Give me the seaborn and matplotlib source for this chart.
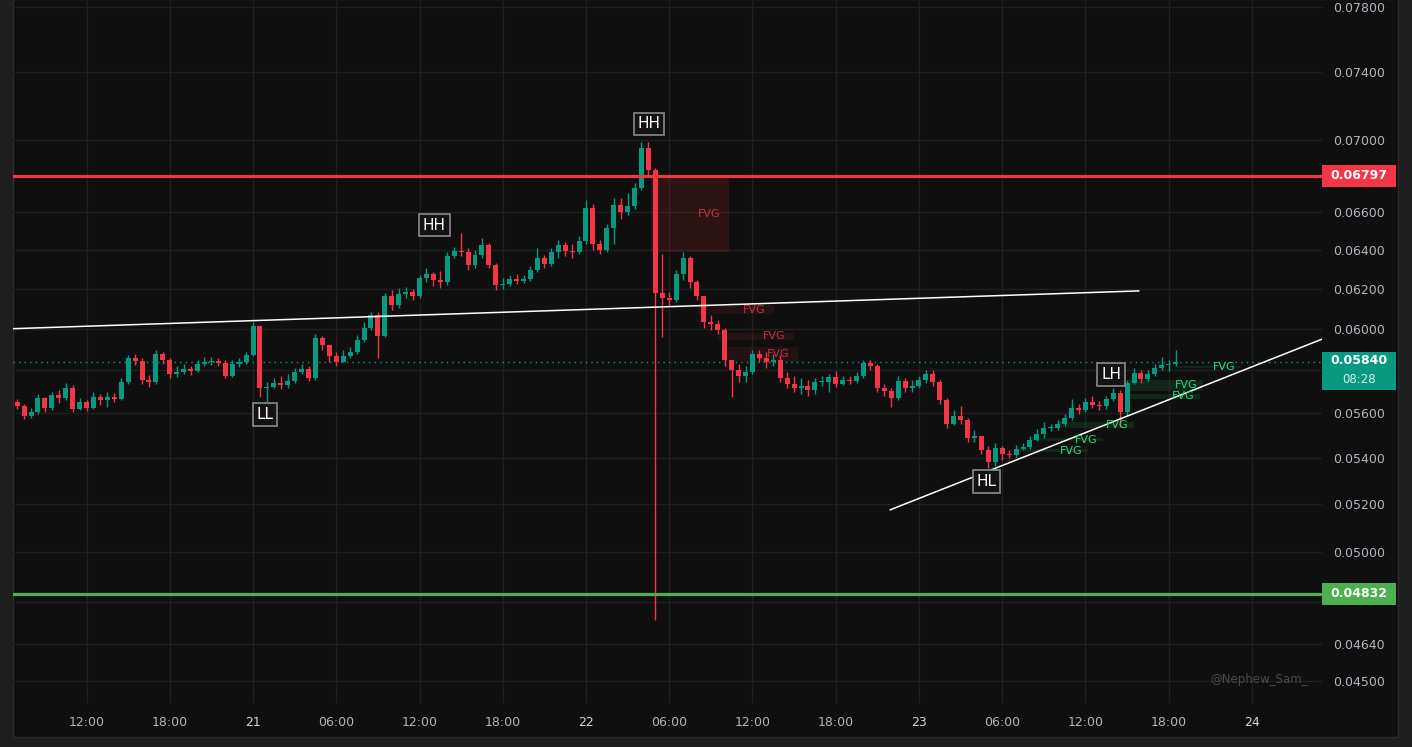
import numpy as np
import matplotlib
matplotlib.use("Agg")
import matplotlib.pyplot as plt
import seaborn as sns
from matplotlib.patches import Rectangle
from matplotlib.ticker import NullLocator, NullFormatter

# ---------------- data ----------------
# time axis: hours since day 20, 00:00 ; 30-minute candles
start_hour = 7.0
step_hours = 0.5
first_open = 0.05653

closes = [
    0.05633, 0.05588, 0.05606, 0.05671, 0.05624, 0.05685, 0.05671, 0.05717, 0.05620, 0.05653,
    0.05624, 0.05676, 0.05662, 0.05676, 0.05667, 0.05745, 0.05859, 0.05844, 0.05754, 0.05745,
    0.05878, 0.05849, 0.05782, 0.05792, 0.05806, 0.05796, 0.05830, 0.05840, 0.05844, 0.05835,
    0.05773, 0.05830, 0.05840, 0.05873, 0.06013, 0.05717, 0.05722, 0.05740, 0.05731, 0.05750,
    0.05792, 0.05806, 0.05763, 0.05955, 0.05921, 0.05868, 0.05840, 0.05868, 0.05888, 0.05945,
    0.06003, 0.06067, 0.05964, 0.06162, 0.06117, 0.06172, 0.06183, 0.06162, 0.06254, 0.06274,
    0.06243, 0.06233, 0.06367, 0.06393, 0.06388, 0.06320, 0.06372, 0.06424, 0.06320, 0.06218,
    0.06223, 0.06249, 0.06238, 0.06249, 0.06295, 0.06356, 0.06325, 0.06388, 0.06424, 0.06393,
    0.06388, 0.06445, 0.06621, 0.06430, 0.06398, 0.06514, 0.06638, 0.06600, 0.06632, 0.06730,
    0.06953, 0.06830, 0.06177, 0.06152, 0.06142, 0.06274, 0.06356, 0.06233, 0.06162, 0.06033,
    0.06023, 0.05994, 0.05849, 0.05801, 0.05773, 0.05792, 0.05878, 0.05859, 0.05840, 0.05849,
    0.05763, 0.05736, 0.05717, 0.05727, 0.05708, 0.05745, 0.05745, 0.05768, 0.05736, 0.05754,
    0.05750, 0.05773, 0.05835, 0.05820, 0.05717, 0.05703, 0.05671, 0.05750, 0.05717, 0.05727,
    0.05754, 0.05782, 0.05745, 0.05662, 0.05552, 0.05588, 0.05570, 0.05489, 0.05498, 0.05435,
    0.05382, 0.05444, 0.05418, 0.05413, 0.05440, 0.05449, 0.05480, 0.05507, 0.05534, 0.05534,
    0.05552, 0.05579, 0.05624, 0.05615, 0.05653, 0.05638, 0.05633, 0.05667, 0.05694, 0.05606,
    0.05740, 0.05787, 0.05759, 0.05782, 0.05811, 0.05825, 0.05830, 0.05840,
]
highs = [
    0.05667, 0.05643, 0.05624, 0.05690, 0.05676, 0.05699, 0.05708, 0.05740, 0.05731, 0.05671,
    0.05662, 0.05699, 0.05690, 0.05699, 0.05694, 0.05763, 0.05873, 0.05878, 0.05859, 0.05778,
    0.05897, 0.05888, 0.05859, 0.05820, 0.05830, 0.05820, 0.05849, 0.05864, 0.05864, 0.05859,
    0.05849, 0.05849, 0.05859, 0.05888, 0.06033, 0.06013, 0.05745, 0.05763, 0.05773, 0.05782,
    0.05811, 0.05830, 0.05820, 0.05974, 0.05964, 0.05926, 0.05888, 0.05897, 0.05912, 0.05969,
    0.06033, 0.06082, 0.06082, 0.06177, 0.06193, 0.06203, 0.06208, 0.06198, 0.06269, 0.06305,
    0.06284, 0.06290, 0.06388, 0.06414, 0.06487, 0.06409, 0.06398, 0.06461, 0.06435, 0.06330,
    0.06254, 0.06269, 0.06274, 0.06269, 0.06315, 0.06409, 0.06372, 0.06409, 0.06451, 0.06440,
    0.06430, 0.06472, 0.06665, 0.06643, 0.06451, 0.06535, 0.06676, 0.06676, 0.06703, 0.06758,
    0.06988, 0.06988, 0.06841, 0.06377, 0.06183, 0.06295, 0.06388, 0.06367, 0.06243, 0.06162,
    0.06067, 0.06043, 0.06003, 0.05849, 0.05830, 0.05820, 0.05897, 0.05897, 0.05888, 0.05878,
    0.05873, 0.05792, 0.05773, 0.05763, 0.05754, 0.05763, 0.05773, 0.05782, 0.05796, 0.05773,
    0.05773, 0.05792, 0.05849, 0.05849, 0.05830, 0.05736, 0.05717, 0.05773, 0.05763, 0.05754,
    0.05773, 0.05801, 0.05801, 0.05754, 0.05671, 0.05615, 0.05633, 0.05579, 0.05525, 0.05498,
    0.05453, 0.05467, 0.05453, 0.05435, 0.05458, 0.05467, 0.05498, 0.05529, 0.05561, 0.05552,
    0.05570, 0.05597, 0.05667, 0.05643, 0.05671, 0.05680, 0.05657, 0.05680, 0.05717, 0.05708,
    0.05754, 0.05811, 0.05801, 0.05801, 0.05830, 0.05864, 0.05849, 0.05897,
]
lows = [
    0.05620, 0.05574, 0.05579, 0.05597, 0.05606, 0.05615, 0.05648, 0.05662, 0.05606, 0.05615,
    0.05611, 0.05620, 0.05638, 0.05629, 0.05653, 0.05662, 0.05736, 0.05825, 0.05736, 0.05722,
    0.05736, 0.05830, 0.05763, 0.05768, 0.05782, 0.05778, 0.05792, 0.05820, 0.05825, 0.05820,
    0.05763, 0.05768, 0.05816, 0.05830, 0.05868, 0.05676, 0.05653, 0.05717, 0.05713, 0.05717,
    0.05740, 0.05782, 0.05750, 0.05754, 0.05897, 0.05840, 0.05820, 0.05840, 0.05859, 0.05878,
    0.05935, 0.05994, 0.05859, 0.05959, 0.06092, 0.06102, 0.06152, 0.06142, 0.06152, 0.06233,
    0.06213, 0.06203, 0.06218, 0.06356, 0.06367, 0.06295, 0.06305, 0.06356, 0.06305, 0.06193,
    0.06198, 0.06213, 0.06223, 0.06228, 0.06238, 0.06284, 0.06305, 0.06315, 0.06356, 0.06367,
    0.06356, 0.06377, 0.06430, 0.06398, 0.06377, 0.06388, 0.06430, 0.06562, 0.06584, 0.06616,
    0.06719, 0.06797, 0.04730, 0.05959, 0.06112, 0.06132, 0.06243, 0.06203, 0.06142, 0.06003,
    0.05994, 0.05974, 0.05820, 0.05676, 0.05745, 0.05745, 0.05782, 0.05840, 0.05811, 0.05820,
    0.05745, 0.05717, 0.05699, 0.05690, 0.05680, 0.05690, 0.05727, 0.05699, 0.05722, 0.05731,
    0.05736, 0.05740, 0.05763, 0.05801, 0.05699, 0.05680, 0.05629, 0.05662, 0.05699, 0.05699,
    0.05717, 0.05740, 0.05727, 0.05643, 0.05534, 0.05547, 0.05552, 0.05471, 0.05471, 0.05418,
    0.05356, 0.05365, 0.05391, 0.05400, 0.05404, 0.05435, 0.05440, 0.05476, 0.05489, 0.05520,
    0.05525, 0.05543, 0.05570, 0.05597, 0.05606, 0.05624, 0.05615, 0.05620, 0.05657, 0.05538,
    0.05593, 0.05736, 0.05740, 0.05750, 0.05773, 0.05801, 0.05796, 0.05820,
]

resistance_level = 0.06797
support_level = 0.04832
countdown_text = "08:28"

# trend lines (hour, price)
trend_a_x = [6.70, 87.86]
trend_a_y = [0.06000, 0.06188]
trend_b_x = [69.91, 101.05]
trend_b_y = [0.05175, 0.05949]

# fair value gaps: start hour, end hour, top price, bottom price
fvg_bear_start = [52.68, 56.00, 57.44, 57.80]
fvg_bear_end = [58.29, 61.55, 62.99, 63.30]
fvg_bear_top = [0.06797, 0.06117, 0.05979, 0.05911]
fvg_bear_bot = [0.06388, 0.06072, 0.05945, 0.05840]

fvg_bull_start = [79.28, 80.14, 81.95, 87.06, 87.06, 90.60]
fvg_bull_end = [84.18, 85.25, 87.50, 92.47, 92.25, 95.20]
fvg_bull_top = [0.05437, 0.05486, 0.05561, 0.05754, 0.05690, 0.05820]
fvg_bull_bot = [0.05426, 0.05476, 0.05534, 0.05703, 0.05667, 0.05811]

# swing structure labels
swing_labels = ["HH", "HH", "LL", "HL", "LH"]
swing_index = [90, 64, 36, 140, 159]
swing_side = ["high", "high", "low", "low", "high"]

price_ticks = [0.078, 0.074, 0.070, 0.066, 0.064, 0.062, 0.060, 0.058,
               0.056, 0.054, 0.052, 0.050, 0.048, 0.0464, 0.045]
hidden_ticks = [0.058, 0.048]   # covered by the price badges
time_ticks = [12, 18, 24, 30, 36, 42, 48, 54, 60, 66, 72, 78, 84, 90, 96]
time_labels = ["12:00", "18:00", "21", "06:00", "12:00", "18:00", "22",
               "06:00", "12:00", "18:00", "23", "06:00", "12:00", "18:00", "24"]

# ---------------- style ----------------
BG = "#0f0f0f"
BORDER = "#1e1e1e"
GRID = "#1f1f1f"
UP = "#089981"
DOWN = "#f23645"
GREEN = "#4caf50"
LABEL = "#b2b5be"
FVG_GREEN_TXT = "#22e07a"

sns.set_theme(style="dark", rc={"axes.facecolor": BG, "figure.facecolor": BORDER})
plt.rcParams["font.family"] = ["DejaVu Sans"]

W, H = 1412, 747
fig = plt.figure(figsize=(W / 100, H / 100), dpi=100)
fig.patches.append(Rectangle((13 / W, 10 / H), (1398 - 13) / W, (H - 9) / H,
                             transform=fig.transFigure, fc=BG, ec="#2c2c2c",
                             lw=1.0, zorder=-5))

ax = fig.add_axes([13 / W, 44 / H, 1309 / W, 703 / H])
ax.patch.set_visible(False)
ax.set_yscale("log")
ax.set_ylim(0.044203, 0.078466)
ax.set_xlim(6.70, 101.05)
for s in ax.spines.values():
    s.set_visible(False)

# grid and scales
ax.set_axisbelow(True)
ax.yaxis.set_minor_locator(NullLocator())
ax.yaxis.set_minor_formatter(NullFormatter())
ax.set_yticks(price_ticks)
ax.set_yticklabels(["" if tk in hidden_ticks else f"{tk:.5f}" for tk in price_ticks])
ax.set_xticks(time_ticks)
ax.set_xticklabels(time_labels)
ax.grid(True, which="major", color=GRID, lw=1.0)
ax.yaxis.tick_right()
ax.tick_params(axis="y", length=0, pad=8, labelsize=9, labelcolor=LABEL)
ax.tick_params(axis="x", length=0, pad=9, labelsize=9, labelcolor=LABEL)
for lab in ax.get_xticklabels():
    if ":" not in lab.get_text():
        lab.set_color("#d1d4dc")

# candles
c = np.array(closes)
hi = np.array(highs)
lo = np.array(lows)
o = np.concatenate([[first_open], c[:-1]])
t = start_hour + step_hours * np.arange(len(c))
cols = np.where(c >= o, UP, DOWN)
ax.vlines(t, lo, hi, colors=cols, lw=1.0, zorder=3)
bottom = np.minimum(o, c)
height = np.maximum(np.abs(c - o), bottom * 0.0009)
ax.bar(t, height, bottom=bottom, width=0.36, color=cols, linewidth=0, zorder=4)

# horizontal levels
ax.axhline(resistance_level, color=DOWN, lw=2.3, zorder=5)
ax.axhline(support_level, color=GREEN, lw=2.3, zorder=5)
ax.axhline(c[-1], color=UP, lw=1.0, ls=(0, (1, 3)), zorder=2)

# trend lines
sns.lineplot(x=trend_a_x, y=trend_a_y, ax=ax, color="white", lw=1.1, zorder=6)
sns.lineplot(x=trend_b_x, y=trend_b_y, ax=ax, color="white", lw=1.1, zorder=6)

# FVG boxes
for i in range(len(fvg_bear_start)):
    a = 0.13 if i == 0 else 0.09
    ax.add_patch(Rectangle((fvg_bear_start[i], fvg_bear_bot[i]),
                           fvg_bear_end[i] - fvg_bear_start[i],
                           fvg_bear_top[i] - fvg_bear_bot[i],
                           color=DOWN, alpha=a, lw=0, zorder=2))
    mid = np.sqrt(fvg_bear_top[i] * fvg_bear_bot[i])
    ax.annotate("FVG", xy=(fvg_bear_end[i], mid), xytext=(-6, 0),
                textcoords="offset points", ha="right", va="center",
                color=DOWN, alpha=0.8, fontsize=8, zorder=7)
for i in range(len(fvg_bull_start)):
    ax.add_patch(Rectangle((fvg_bull_start[i], fvg_bull_bot[i]),
                           fvg_bull_end[i] - fvg_bull_start[i],
                           fvg_bull_top[i] - fvg_bull_bot[i],
                           color="#22c55e", alpha=0.12, lw=0, zorder=2))
    mid = np.sqrt(fvg_bull_top[i] * fvg_bull_bot[i])
    ax.annotate("FVG", xy=(fvg_bull_end[i], mid), xytext=(-4, 0),
                textcoords="offset points", ha="right", va="center",
                color=FVG_GREEN_TXT, fontsize=8, zorder=7)

# swing labels
offsets = {0: (5.4, 13.0), 1: (-19.4, 5.8), 2: (-1.4, -9.4), 3: (-1.4, -10.0), 4: (-6.5, 10.8)}
for k, (lab, idx, side) in enumerate(zip(swing_labels, swing_index, swing_side)):
    yv = hi[idx] if side == "high" else lo[idx]
    ax.annotate(lab, xy=(t[idx], yv), xytext=offsets[k], textcoords="offset points",
                ha="center", va="center", color="white", fontsize=11,
                bbox=dict(boxstyle="square,pad=0.25", fc="#131313", ec="#8a8a8a", lw=1.2),
                zorder=8)

# right price-scale badges
rax = fig.add_axes([1322 / W, 44 / H, 76 / W, 703 / H])
rax.set_yscale("log")
rax.set_ylim(ax.get_ylim())
rax.set_xlim(0, 1)
rax.axis("off")
px = lambda n: np.exp(n / 1225.0)
bw = 74 / 76
for level, col in [(resistance_level, DOWN), (support_level, GREEN)]:
    rax.add_patch(Rectangle((0, level / px(11)), bw, level * px(11) - level / px(11),
                            color=col, lw=0, clip_on=False))
    rax.text(bw / 2, level, f"{level:.5f}", ha="center", va="center",
             color="white", fontsize=9, fontweight="bold")
last = c[-1]
rax.add_patch(Rectangle((0, last / px(28)), bw, last * px(10) - last / px(28),
                        color=UP, lw=0, clip_on=False))
rax.text(bw / 2, last * px(1), f"{last:.5f}", ha="center", va="center",
         color="white", fontsize=9, fontweight="bold")
rax.text(bw / 2, last / px(18), countdown_text, ha="center", va="center",
         color="#d8efe9", fontsize=8.5)

fig.text(1259 / W, 1 - 680 / H, "@Nephew_Sam_", ha="center", va="center",
         color="#4a4a4a", fontsize=8.5)

fig.savefig("out.png", dpi=100, facecolor=BORDER)
